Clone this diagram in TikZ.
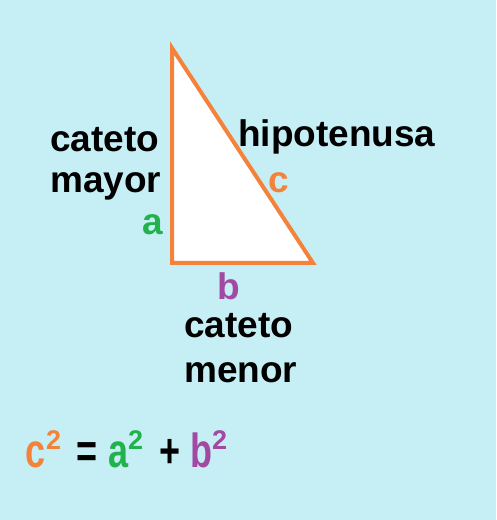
\documentclass[tikz,border=0pt]{standalone}
\usepackage{fontspec}
\setmainfont{Liberation Sans}
\usepackage{xcolor}
\usepackage{graphicx}
\usetikzlibrary{positioning}

\definecolor{bgcyan}{HTML}{C5EFF4}
\definecolor{ladoc}{HTML}{F5823A}
\definecolor{ladoa}{HTML}{22B14C}
\definecolor{ladob}{HTML}{A349A4}

\newcommand{\alto}[1]{\scalebox{1}[1.33]{#1}}

\tikzset{
	txt/.style={font=\fontsize{37}{42}\selectfont\bfseries, inner sep=0pt, anchor=base west},
	eqtxt/.style={font=\fontsize{36}{36}\selectfont\bfseries, inner sep=0pt, anchor=base west},
	sqtxt/.style={font=\fontsize{27}{27}\selectfont\bfseries, inner sep=0pt, anchor=base west},
	lado/.style={draw=ladoc, line width=4pt, line join=miter, fill=white}
}

\begin{document}
\begin{tikzpicture}[x=1pt,y=1pt]
	\fill[bgcyan] (0,0) rectangle (496,520);
	\useasboundingbox (0,0) rectangle (496,520);
	
	% triangulo
	\coordinate (A) at (172,472);
	\coordinate (C) at (172,257);
	\coordinate (B) at (313,257);
	\draw[lado] (A) -- (C) -- (B) -- cycle;
	
	\node[txt] (cateto1) at (50,368) {cateto};
	\node[txt] (mayor) at (50,327) {mayor};
	\node[txt] (hipo) at (238,373) {hipotenusa};
	\node[txt] (cateto2) at (184,182) {cateto};
	\node[txt] (menor) at (184,137) {menor};
	
	\node[txt, text=ladoa] (a) at (142,285) {a};
	\node[txt, text=ladob] (b) at (217,220) {b};
	\node[txt, text=ladoc] (c) at (268,327) {c};
	
	% c^2 = a^2 + b^2
	\node[eqtxt, text=ladoc] (eqc) at (25,52) {\alto{c}};
	\node[sqtxt, text=ladoc] (eqc2) at (46,70) {2};
	\node[eqtxt] (eqeq) at (76,52) {\alto{=}};
	\node[eqtxt, text=ladoa] (eqa) at (108,52) {\alto{a}};
	\node[sqtxt, text=ladoa] (eqa2) at (128,70) {2};
	\node[eqtxt] (eqplus) at (159,52) {\alto{+}};
	\node[eqtxt, text=ladob] (eqb) at (190,52) {\alto{b}};
	\node[sqtxt, text=ladob] (eqb2) at (212,70) {2};
\end{tikzpicture}
\end{document}
